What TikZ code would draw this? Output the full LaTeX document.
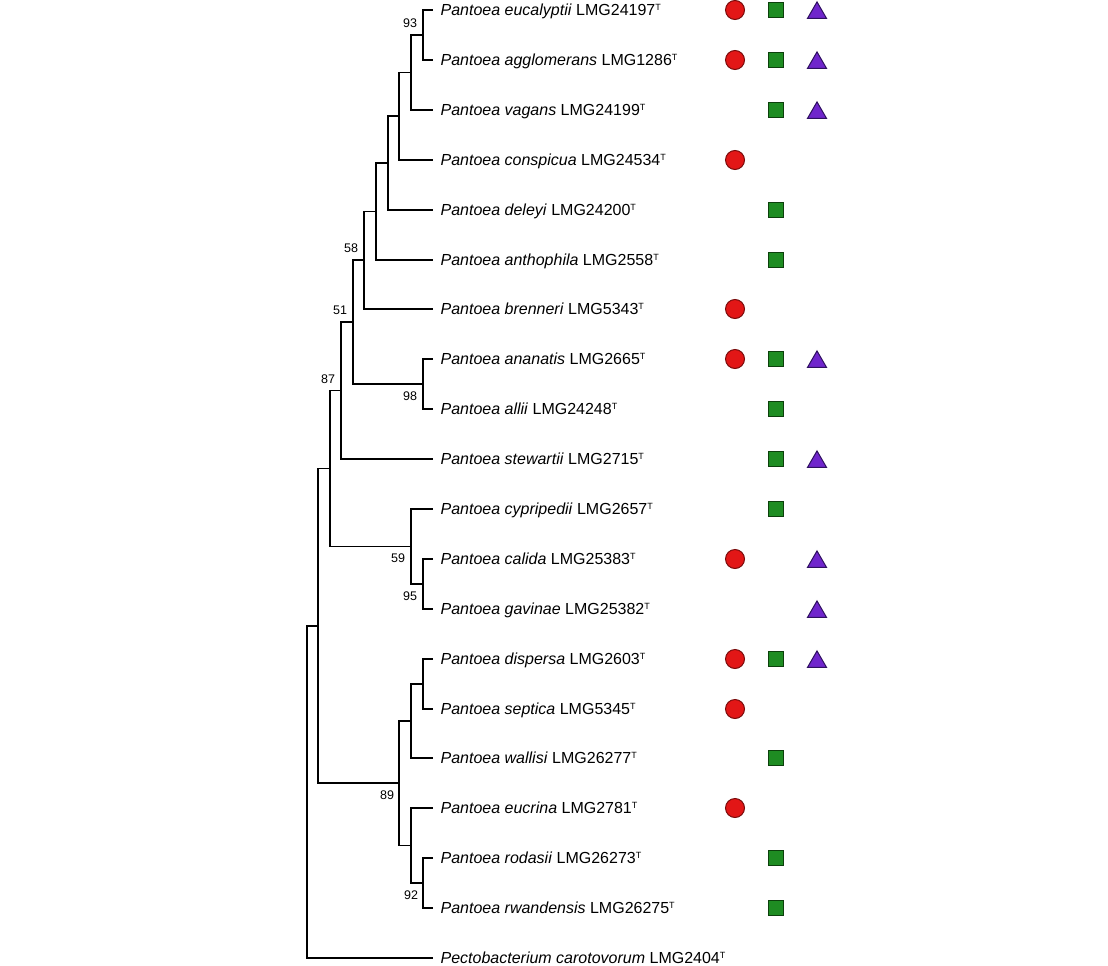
\documentclass[tikz,border=0pt]{standalone}
\usepackage{fontspec}
\setmainfont{Liberation Sans}
\usetikzlibrary{shapes.geometric}

\definecolor{circfill}{RGB}{226,22,22}
\definecolor{circline}{RGB}{120,10,10}
\definecolor{sqfill}{RGB}{30,140,34}
\definecolor{sqline}{RGB}{12,64,12}
\definecolor{trifill}{RGB}{112,38,204}
\definecolor{triline}{RGB}{46,16,96}

\newcommand{\typeT}{\raisebox{5.5pt}{\fontsize{9}{9}\selectfont T}}

\begin{document}
\begin{tikzpicture}[x=1pt,y=-1pt,line width=1.3pt,
  taxon/.style={anchor=base west,inner sep=0pt,font=\fontsize{16}{18}\selectfont},
  boot/.style={inner sep=0pt,font=\fontsize{12.5}{14}\selectfont},
  redcirc/.style={circle,draw=circline,fill=circfill,line width=1pt,minimum size=19pt,inner sep=0pt},
  greensq/.style={rectangle,draw=sqline,fill=sqfill,line width=1pt,minimum size=15.5pt,inner sep=0pt},
  purpletri/.style={regular polygon,regular polygon sides=3,draw=triline,fill=trifill,line width=1pt,minimum size=22pt,inner sep=0pt}]

\useasboundingbox (0,0) rectangle (1108,966);

\coordinate (eucalyptii-end) at (433,10);
\coordinate (agglomerans-end) at (433,60);
\coordinate (vagans-end) at (433,110);
\coordinate (conspicua-end) at (433,160);
\coordinate (deleyi-end) at (433,210);
\coordinate (anthophila-end) at (433,260);
\coordinate (brenneri-end) at (433,309);
\coordinate (ananatis-end) at (433,359);
\coordinate (allii-end) at (433,409);
\coordinate (stewartii-end) at (433,459);
\coordinate (cypripedii-end) at (433,509);
\coordinate (calida-end) at (433,559);
\coordinate (gavinae-end) at (433,609);
\coordinate (dispersa-end) at (433,659);
\coordinate (septica-end) at (433,709);
\coordinate (wallisi-end) at (433,758);
\coordinate (eucrina-end) at (433,808);
\coordinate (rodasii-end) at (433,858);
\coordinate (rwandensis-end) at (433,908);
\coordinate (carotovorum-end) at (433,958);

\coordinate (n93) at (423,35);
\coordinate (nb) at (411,72.5);
\coordinate (nc) at (399,116);
\coordinate (nd) at (388,163);
\coordinate (ne) at (376,211.5);
\coordinate (n58) at (364,260);
\coordinate (n98) at (423,384);
\coordinate (n51) at (353,322);
\coordinate (n87) at (341,390.5);
\coordinate (n95) at (423,584);
\coordinate (n59) at (411,546.5);
\coordinate (nl) at (330,468.5);
\coordinate (np) at (423,684);
\coordinate (no) at (411,721);
\coordinate (n92) at (423,883);
\coordinate (nq) at (411,845.5);
\coordinate (n89) at (399,783);
\coordinate (nm) at (318,626);
\coordinate (root) at (307,792);

\draw[] (n93) |- (eucalyptii-end);
\draw[] (n93) |- (agglomerans-end);
\draw[] (nb) |- (n93);
\draw[] (nb) |- (vagans-end);
\draw[] (nc) |- (nb);
\draw[] (nc) |- (conspicua-end);
\draw[] (nd) |- (nc);
\draw[] (nd) |- (deleyi-end);
\draw[] (ne) |- (nd);
\draw[] (ne) |- (anthophila-end);
\draw[] (n58) |- (ne);
\draw[] (n58) |- (brenneri-end);
\draw[] (n98) |- (ananatis-end);
\draw[] (n98) |- (allii-end);
\draw[] (n51) |- (n58);
\draw[] (n51) |- (n98);
\draw[] (n87) |- (n51);
\draw[] (n87) |- (stewartii-end);
\draw[] (n95) |- (calida-end);
\draw[] (n95) |- (gavinae-end);
\draw[] (n59) |- (cypripedii-end);
\draw[] (n59) |- (n95);
\draw[] (nl) |- (n87);
\draw[] (nl) |- (n59);
\draw[] (np) |- (dispersa-end);
\draw[] (np) |- (septica-end);
\draw[] (no) |- (np);
\draw[] (no) |- (wallisi-end);
\draw[] (n92) |- (rodasii-end);
\draw[] (n92) |- (rwandensis-end);
\draw[] (nq) |- (eucrina-end);
\draw[] (nq) |- (n92);
\draw[] (n89) |- (no);
\draw[] (n89) |- (nq);
\draw[] (nm) |- (nl);
\draw[] (nm) |- (n89);
\draw[] (root) |- (nm);
\draw[] (root) |- (carotovorum-end);

\node[boot] (b93) at (410,23.5) {93};
\node[boot] (b58) at (351,248.5) {58};
\node[boot] (b51) at (340,310.5) {51};
\node[boot] (b87) at (328,379) {87};
\node[boot] (b98) at (410,396) {98};
\node[boot] (b59) at (398,558) {59};
\node[boot] (b95) at (410,596) {95};
\node[boot] (b89) at (387,795) {89};
\node[boot] (b92) at (411,895) {92};

\node[taxon] (eucalyptii) at (440,15.75) {\textit{Pantoea eucalyptii} LMG24197\typeT};
\node[taxon] (agglomerans) at (440,65.75) {\textit{Pantoea agglomerans} LMG1286\typeT};
\node[taxon] (vagans) at (440,115.75) {\textit{Pantoea vagans} LMG24199\typeT};
\node[taxon] (conspicua) at (440,165.75) {\textit{Pantoea conspicua} LMG24534\typeT};
\node[taxon] (deleyi) at (440,215.75) {\textit{Pantoea deleyi} LMG24200\typeT};
\node[taxon] (anthophila) at (440,265.75) {\textit{Pantoea anthophila} LMG2558\typeT};
\node[taxon] (brenneri) at (440,314.75) {\textit{Pantoea brenneri} LMG5343\typeT};
\node[taxon] (ananatis) at (440,364.75) {\textit{Pantoea ananatis} LMG2665\typeT};
\node[taxon] (allii) at (440,414.75) {\textit{Pantoea allii} LMG24248\typeT};
\node[taxon] (stewartii) at (440,464.75) {\textit{Pantoea stewartii} LMG2715\typeT};
\node[taxon] (cypripedii) at (440,514.75) {\textit{Pantoea cypripedii} LMG2657\typeT};
\node[taxon] (calida) at (440,564.75) {\textit{Pantoea calida} LMG25383\typeT};
\node[taxon] (gavinae) at (440,614.75) {\textit{Pantoea gavinae} LMG25382\typeT};
\node[taxon] (dispersa) at (440,664.75) {\textit{Pantoea dispersa} LMG2603\typeT};
\node[taxon] (septica) at (440,714.75) {\textit{Pantoea septica} LMG5345\typeT};
\node[taxon] (wallisi) at (440,763.75) {\textit{Pantoea wallisi} LMG26277\typeT};
\node[taxon] (eucrina) at (440,813.75) {\textit{Pantoea eucrina} LMG2781\typeT};
\node[taxon] (rodasii) at (440,863.75) {\textit{Pantoea rodasii} LMG26273\typeT};
\node[taxon] (rwandensis) at (440,913.75) {\textit{Pantoea rwandensis} LMG26275\typeT};
\node[taxon] (carotovorum) at (440,963.75) {\textit{Pectobacterium carotovorum} LMG2404\typeT};

\node[redcirc] (eucalyptii-c) at (735,10) {};
\node[greensq] (eucalyptii-s) at (776,10) {};
\node[purpletri] (eucalyptii-t) at (817,12.9) {};
\node[redcirc] (agglomerans-c) at (735,60) {};
\node[greensq] (agglomerans-s) at (776,60) {};
\node[purpletri] (agglomerans-t) at (817,62.9) {};
\node[greensq] (vagans-s) at (776,110) {};
\node[purpletri] (vagans-t) at (817,112.9) {};
\node[redcirc] (conspicua-c) at (735,160) {};
\node[greensq] (deleyi-s) at (776,210) {};
\node[greensq] (anthophila-s) at (776,260) {};
\node[redcirc] (brenneri-c) at (735,309) {};
\node[redcirc] (ananatis-c) at (735,359) {};
\node[greensq] (ananatis-s) at (776,359) {};
\node[purpletri] (ananatis-t) at (817,361.9) {};
\node[greensq] (allii-s) at (776,409) {};
\node[greensq] (stewartii-s) at (776,459) {};
\node[purpletri] (stewartii-t) at (817,461.9) {};
\node[greensq] (cypripedii-s) at (776,509) {};
\node[redcirc] (calida-c) at (735,559) {};
\node[purpletri] (calida-t) at (817,561.9) {};
\node[purpletri] (gavinae-t) at (817,611.9) {};
\node[redcirc] (dispersa-c) at (735,659) {};
\node[greensq] (dispersa-s) at (776,659) {};
\node[purpletri] (dispersa-t) at (817,661.9) {};
\node[redcirc] (septica-c) at (735,709) {};
\node[greensq] (wallisi-s) at (776,758) {};
\node[redcirc] (eucrina-c) at (735,808) {};
\node[greensq] (rodasii-s) at (776,858) {};
\node[greensq] (rwandensis-s) at (776,908) {};

\end{tikzpicture}
\end{document}
